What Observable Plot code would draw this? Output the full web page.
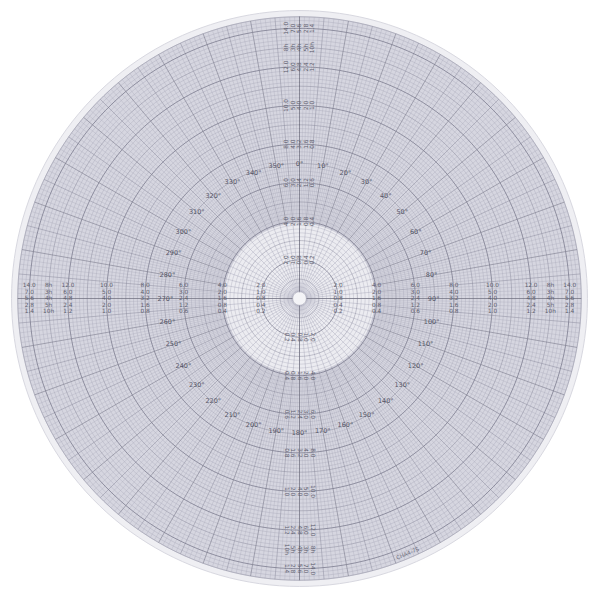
<!DOCTYPE html>
<html><head><meta charset="utf-8">
<script src="https://cdn.jsdelivr.net/npm/d3@7"></script>
<script src="https://cdn.jsdelivr.net/npm/@observablehq/plot@0.6"></script>
<style>body{margin:0;background:#fff;}#chart{width:600px;height:600px;}</style>
</head><body><div id="chart"></div>
<script>
// ---- data ----
const majorRadii = [2, 4, 6, 8, 10, 12, 14];
const labelColumns = [2, 4, 6, 8, 10, 12, 13, 14];
const labelRows = [
  ["2.0", "4.0", "6.0", "8.0", "10.0", "12.0", "8h", "14.0"],
  ["1.0", "2.0", "3.0", "4.0", "5.0", "6.0", "3h", "7.0"],
  ["0.8", "1.6", "2.4", "3.2", "4.0", "4.8", "4h", "5.6"],
  ["0.4", "0.8", "1.2", "1.6", "2.0", "2.4", "5h", "2.8"],
  ["0.2", "0.4", "0.6", "0.8", "1.0", "1.2", "10h", "1.4"]
];
const angleLabels = [0,10,20,30,40,50,60,70,80,90,100,110,120,130,140,150,160,170,
                     180,190,200,210,220,230,240,250,260,270,280,290,300,310,320,330,340,350];
const angleLabelRadius = 6.95;
const innerDiscRadius = 3.9;
const gridRadius = 14.6;
const rimRadius = 14.92;
const centerRadius = 0.35;
const footerText = ["CHA4-7S"];

// ---- geometry helpers (data units) ----
const K = 19.3, cx = 299, cy = 298;
const rad = a => a * Math.PI / 180;
const pol = (r, a) => ({x: r * Math.sin(rad(a)), y: r * Math.cos(rad(a))});
const ring = (rs) => rs.flatMap(r => d3.range(0, 361, 2).map(a => ({r, ...pol(r, a)})));
const spokes = (angles, r0, r1) => angles.map(a => {
  const p = pol(r0, a), q = pol(r1, a);
  return {x1: p.x, y1: p.y, x2: q.x, y2: q.y};
});

const fineR = d3.range(1, Math.round(gridRadius * 5) + 1).map(i => i / 5).filter(r => Math.abs(r - Math.round(r)) > 1e-6);
const medR = d3.range(1, 15).filter(r => r % 2 === 1);
const fineA = d3.range(0, 360, 1).filter(a => a % 5 !== 0);
const medA = d3.range(0, 360, 5).filter(a => a % 10 !== 0);
const majA = d3.range(0, 360, 10).filter(a => a % 90 !== 0);
const axisA = [0, 90, 180, 270];

const marks = [
  Plot.line(ring([rimRadius]), {x: "x", y: "y", z: "r", curve: "linear-closed", fill: "#efeff3", stroke: "#d8d8e0", strokeWidth: 1}),
  Plot.line(ring([gridRadius]), {x: "x", y: "y", z: "r", curve: "linear-closed", fill: "#d6d6e0", stroke: "#a8a8b6", strokeWidth: 0.7}),
  Plot.line(ring([innerDiscRadius]), {x: "x", y: "y", z: "r", curve: "linear-closed", fill: "#ececf1", stroke: "none"}),
  // fine circles
  Plot.line(ring(fineR), {x: "x", y: "y", z: "r", curve: "linear-closed", stroke: "#a2a2b4", strokeWidth: 0.35}),
  // fine spokes (outer)
  Plot.link(spokes(fineA, innerDiscRadius, gridRadius), {x1: "x1", y1: "y1", x2: "x2", y2: "y2", stroke: "#a2a2b4", strokeWidth: 0.3}),
  // inner spokes every 5 degrees
  Plot.link(spokes(d3.range(0, 360, 5), centerRadius, innerDiscRadius), {x1: "x1", y1: "y1", x2: "x2", y2: "y2", stroke: "#a0a0b2", strokeWidth: 0.4}),
  // medium
  Plot.line(ring(medR), {x: "x", y: "y", z: "r", curve: "linear-closed", stroke: "#8a8a9c", strokeWidth: 0.5}),
  Plot.link(spokes(medA, innerDiscRadius, gridRadius), {x1: "x1", y1: "y1", x2: "x2", y2: "y2", stroke: "#8a8a9c", strokeWidth: 0.5}),
  // major
  Plot.line(ring(majorRadii), {x: "x", y: "y", z: "r", curve: "linear-closed", stroke: "#707084", strokeWidth: 0.7}),
  Plot.link(spokes(majA, innerDiscRadius, gridRadius), {x1: "x1", y1: "y1", x2: "x2", y2: "y2", stroke: "#7a7a8c", strokeWidth: 0.6}),
  Plot.link(spokes(axisA, centerRadius, gridRadius), {x1: "x1", y1: "y1", x2: "x2", y2: "y2", stroke: "#686878", strokeWidth: 0.7}),
  Plot.line(ring([centerRadius]), {x: "x", y: "y", z: "r", curve: "linear-closed", fill: "#f4f4f7", stroke: "#8a8a9c", strokeWidth: 0.5}),
  // angle labels
  Plot.text(angleLabels.map(a => ({a, ...pol(angleLabelRadius, a)})), {
    x: "x", y: "y", text: d => `${d.a}°`, fontSize: 6.5, fill: "#555566", fontFamily: "DejaVu Sans"
  }),
  // footer
  Plot.text(footerText.map(t => ({t, ...pol(14.35, 157)})), {x: "x", y: "y", text: "t", rotate: -23, fontSize: 5.5, fill: "#6a6a7a", fontFamily: "DejaVu Sans"})
];

// numeric scale labels: right, left, top, bottom
labelRows.forEach((row, i) => {
  const off = i * 6.5 - 13;
  const items = labelColumns.map((c, j) => ({c, t: row[j]}));
  const common = {text: "t", fontSize: 5.8, fill: "#5e5e6e", fontFamily: "DejaVu Sans"};
  marks.push(Plot.text(items, {...common, x: d => d.c, y: () => 0, dy: off}));
  marks.push(Plot.text(items, {...common, x: d => -d.c, y: () => 0, dy: off}));
  marks.push(Plot.text(items, {...common, x: () => 0, y: d => d.c, dx: off, rotate: -90}));
  marks.push(Plot.text(items, {...common, x: () => 0, y: d => -d.c, dx: -off, rotate: 90}));
});

const chart = Plot.plot({
  width: 600, height: 600, margin: 0,
  x: {domain: [-cx / K, (600 - cx) / K], axis: null},
  y: {domain: [-(600 - cy) / K, cy / K], axis: null},
  style: {background: "#ffffff"},
  marks
});
document.getElementById("chart").append(chart);
</script>
</body></html>
